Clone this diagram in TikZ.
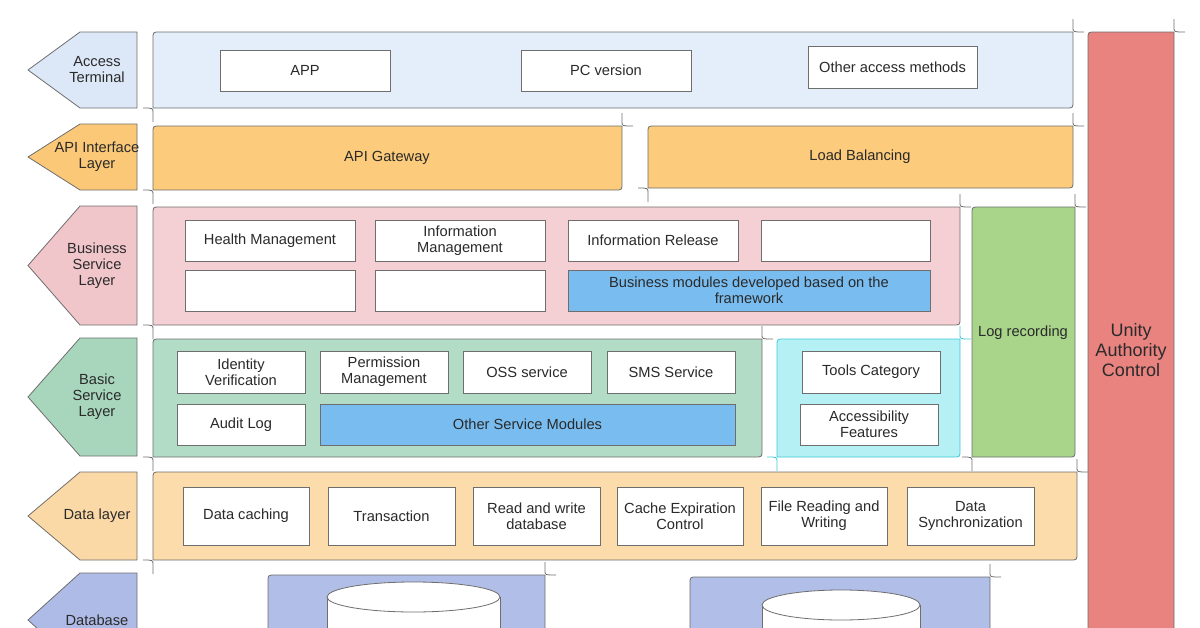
\documentclass[tikz,border=0pt]{standalone}
\usepackage{fontspec}
\setmainfont{Liberation Sans}
\definecolor{ln}{HTML}{6E6E6E}
\definecolor{txt}{HTML}{2A2A2A}
\definecolor{acA}{HTML}{DCE8F7}\definecolor{acP}{HTML}{E4EEFA}
\definecolor{apA}{HTML}{FBC877}\definecolor{apP}{HTML}{FCCB7B}
\definecolor{buA}{HTML}{F1C6CB}\definecolor{buP}{HTML}{F4CFD3}
\definecolor{baA}{HTML}{A8D6BC}\definecolor{baP}{HTML}{B3DCC6}
\definecolor{daA}{HTML}{FBD9A6}\definecolor{daP}{HTML}{FCDCAA}
\definecolor{dbA}{HTML}{AEBBE6}\definecolor{dbP}{HTML}{B0BEE8}
\definecolor{blu}{HTML}{79BDF0}
\definecolor{logg}{HTML}{A8D58A}
\definecolor{tool}{HTML}{B4F0F4}\definecolor{toolL}{HTML}{3CC8D6}
\definecolor{red}{HTML}{E8837F}
\tikzset{
  box/.style={draw=ln, fill=white, align=center, inner sep=0pt, text=txt, font=\fontsize{11}{12}\selectfont},
  lbl/.style={align=center, text=txt, font=\fontsize{11}{12}\selectfont},
  pan/.style={draw=ln, line width=0.6pt},
}
\newcommand\bx[7][box]{\node[#1, minimum width={(#5-#3)*0.75pt}, minimum height={(#6-#4)*0.75pt}] (#2) at ({(#3+#5)/2},{(#4+#6)/2}) {#7};}
\newcommand\pnl[6][ln]{%
  \filldraw[pan, draw=#1, fill=#6] (#2,#5) -- (#2,#3+7) .. controls (#2,#3) .. (#2+7,#3) -- (#4,#3) -- (#4,#5-7) .. controls (#4,#5) .. (#4-7,#5) -- cycle;
  \draw[pan, draw=#1] (#4,#3-13) -- (#4,#3-4) .. controls (#4,#3) .. (#4+11,#3);
  \draw[pan, draw=#1] (#2-10,#5) .. controls (#2,#5) .. (#2,#5+5) -- (#2,#5+14);}
\newcommand\arw[5]{\filldraw[pan, fill=#3] (28,{(#1+#2)/2}) -- (80,#1) -- (137,#1) -- (137,#2) -- (80,#2) -- cycle;
  \node[lbl] (#4) at (97,{(#1+#2)/2}) {#5};}
\begin{document}
\begin{tikzpicture}[x=0.75pt,y=-0.75pt]
\useasboundingbox (0,0) rectangle (1200,628);
\clip (0,0) rectangle (1200,628);
% left arrows
\arw{32}{108}{acA}{aT}{Access\\Terminal}
\arw{124}{190}{apA}{aA}{API Interface\\Layer}
\arw{206}{325}{buA}{aB}{Business\\Service\\Layer}
\arw{338}{456}{baA}{aS}{Basic\\Service\\Layer}
\arw{472}{560}{daA}{aD}{Data layer}
\arw{573}{667}{dbA}{aDB}{Database}
% access
\pnl{153}{32}{1073}{108}{acP}
\bx{app}{220}{50}{390}{91}{APP}
\bx{pc}{521}{50}{691}{91}{PC version}
\bx{oth}{808}{46}{977}{88}{Other access methods}
% api
\pnl{153}{126}{622}{190}{apP}
\node[lbl] (gw) at (387,158) {API Gateway};
\pnl{648}{126}{1073}{188}{apP}
\node[lbl] (lb) at (860,157) {Load Balancing};
% business
\pnl{153}{207}{960}{325}{buP}
\bx{hm}{185}{220}{355}{261}{Health Management}
\bx{im}{375}{220}{545}{261}{Information\\Management}
\bx{ir}{568}{220}{738}{261}{Information Release}
\bx{b4}{761}{220}{930}{261}{}
\bx{b5}{185}{270}{355}{311}{}
\bx{b6}{375}{270}{545}{311}{}
\bx[box,fill=blu]{bm}{568}{270}{930}{311}{Business modules developed based on the\\framework}
% log
\pnl{972}{207}{1075}{457}{logg}
\node[lbl] (log) at (1023,333) {Log recording};
% basic
\pnl{153}{339}{762}{457}{baP}
\bx{iv}{177}{351}{305}{393}{Identity\\Verification}
\bx{pm}{320}{351}{448}{393}{Permission\\Management}
\bx{oss}{463}{351}{591}{393}{OSS service}
\bx{sms}{607}{351}{735}{393}{SMS Service}
\bx{al}{177}{404}{305}{445}{Audit Log}
\bx[box,fill=blu]{osm}{320}{404}{735}{445}{Other Service Modules}
% tools
\pnl[toolL]{777}{339}{960}{457}{tool}
\bx{tc}{802}{351}{940}{393}{Tools Category}
\bx{af}{800}{404}{938}{445}{Accessibility\\Features}
% data
\pnl{153}{472}{1077}{560}{daP}
\bx{dc}{183}{487}{309}{545}{Data caching}
\bx{tr}{328}{487}{455}{545}{Transaction}
\bx{rw}{473}{487}{600}{545}{Read and write\\database}
\bx{ce}{617}{487}{743}{545}{Cache Expiration\\Control}
\bx{fr}{761}{487}{887}{545}{File Reading and\\Writing}
\bx{ds}{907}{487}{1034}{545}{Data\\Synchronization}
% database
\pnl{268}{575}{545}{700}{dbP}
\pnl{690}{577}{990}{700}{dbP}
\filldraw[pan, fill=white] (327,597) -- (327,700) -- (500,700) -- (500,597);
\filldraw[pan, fill=white] (413.5,597) ellipse [x radius=86.5, y radius=15];
\filldraw[pan, fill=white] (762,605) -- (762,700) -- (920,700) -- (920,605);
\filldraw[pan, fill=white] (841,605) ellipse [x radius=79, y radius=15];
% unity
\pnl{1088}{32}{1174}{700}{red}
\node[lbl, font=\fontsize{13.5}{15}\selectfont] (uac) at (1131,350) {Unity\\Authority\\Control};
\end{tikzpicture}
\end{document}
